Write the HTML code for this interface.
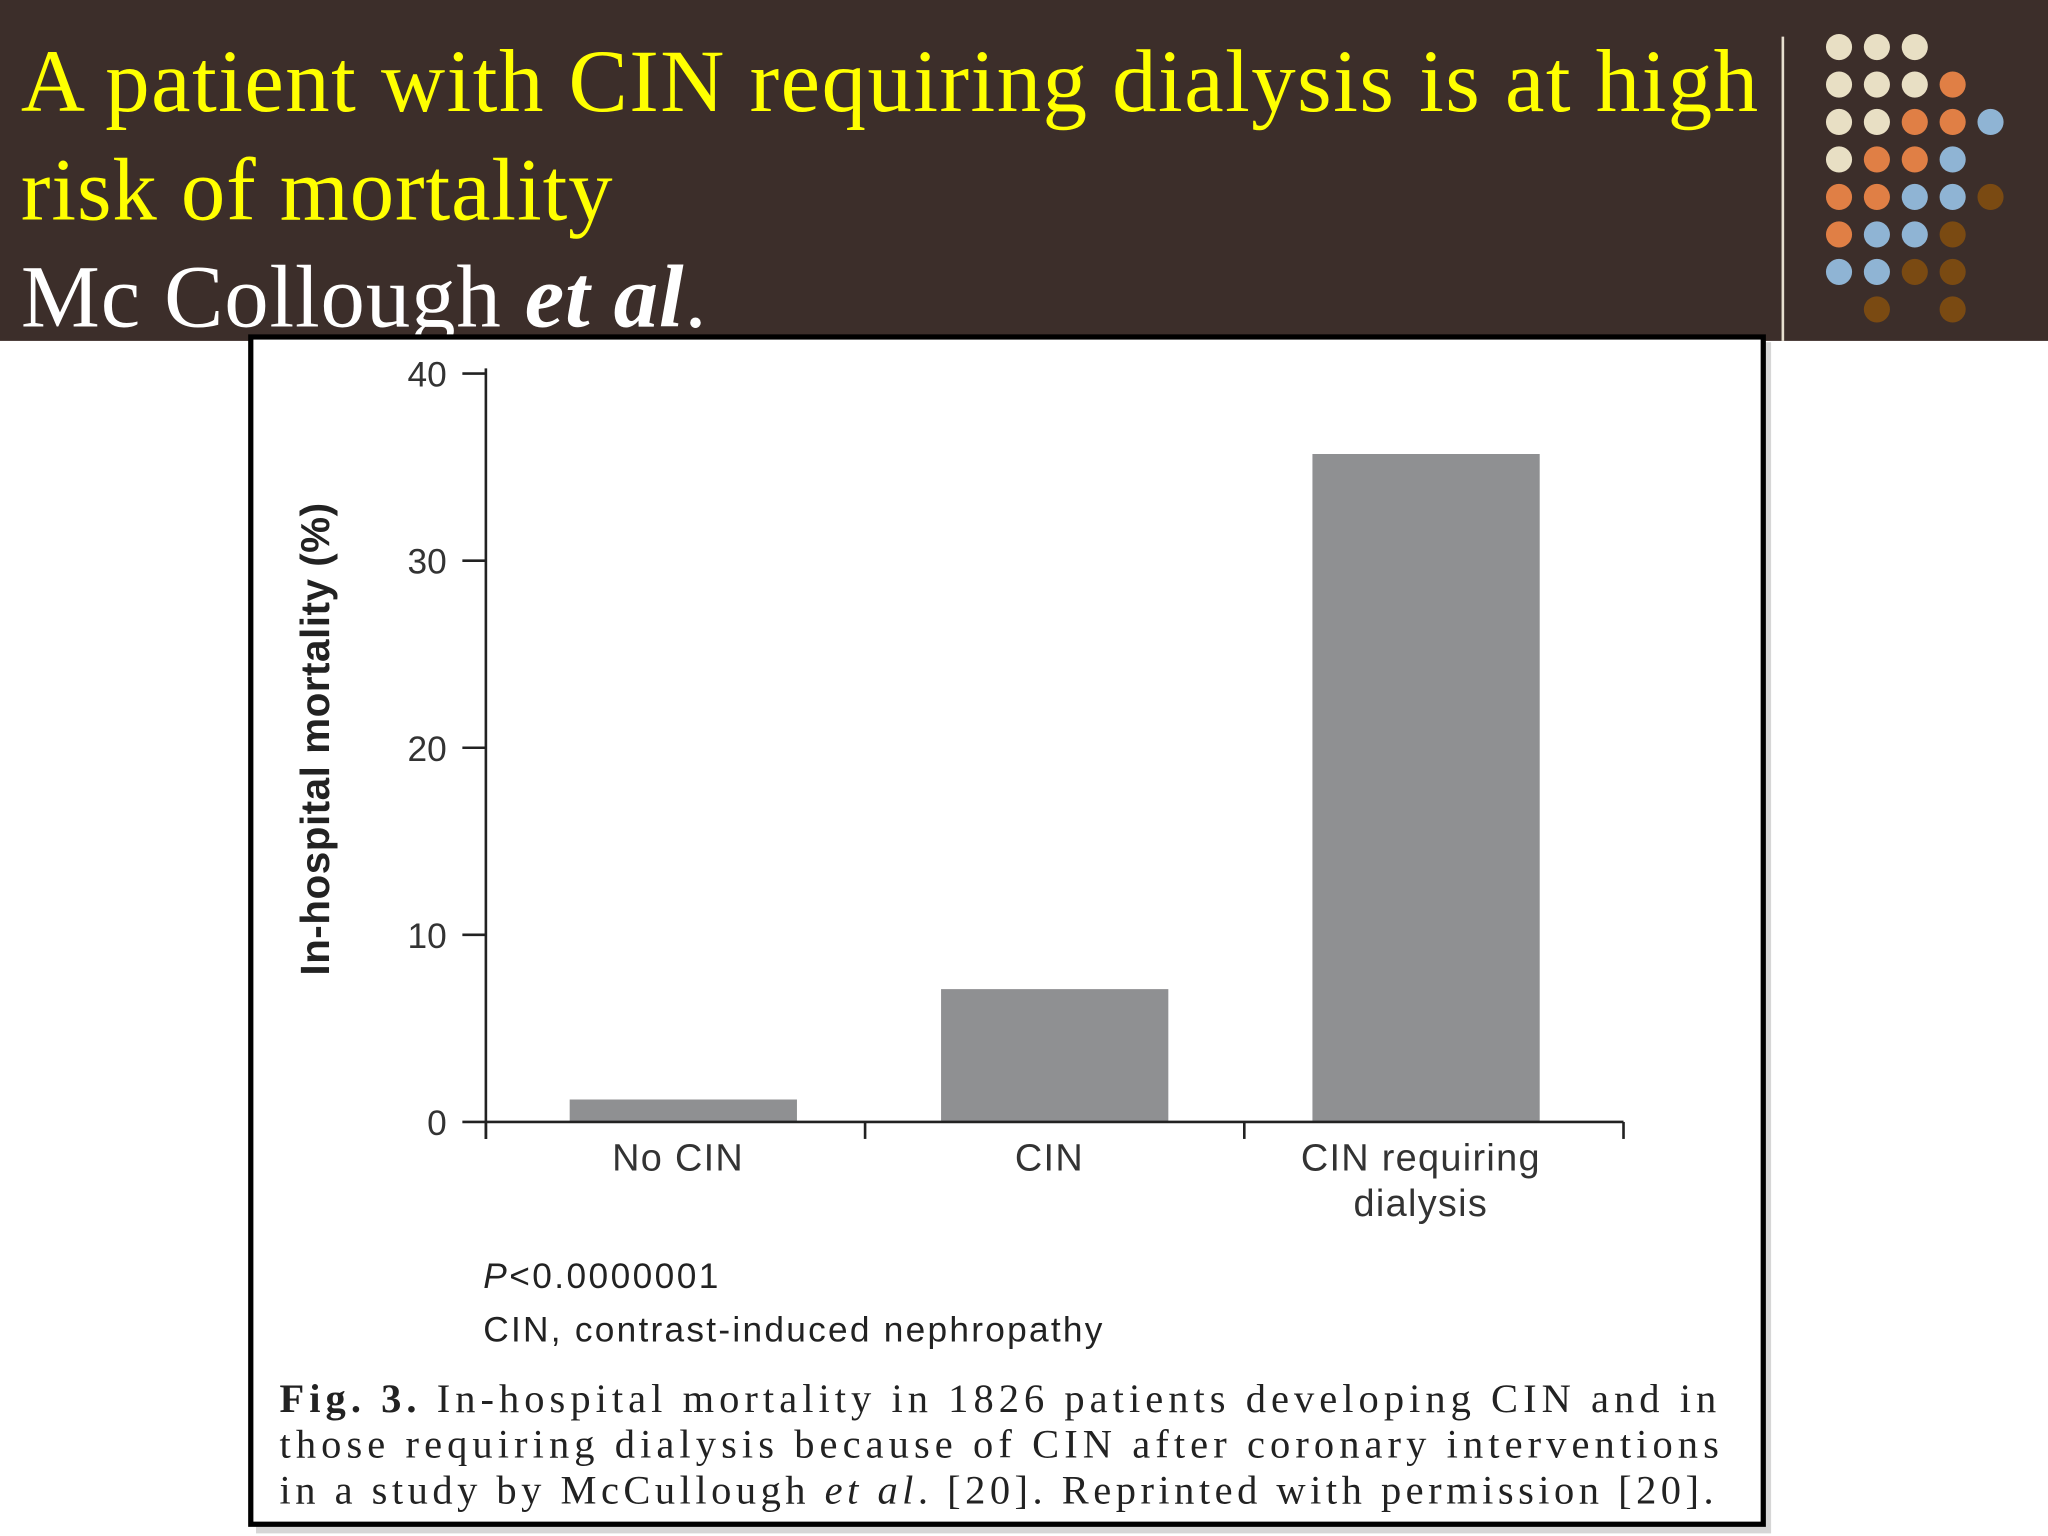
<!DOCTYPE html>
<html><head><meta charset="utf-8"><style>
html,body{margin:0;padding:0;background:#fff;width:2048px;height:1536px;overflow:hidden}
svg{display:block}
</style></head><body>
<svg width="2048" height="1536" viewBox="0 0 1568 1176" xmlns="http://www.w3.org/2000/svg">
<rect x="0" y="0" width="1568" height="261" fill="#3c2e2a"/>
<line x1="1365" y1="28" x2="1365" y2="261" stroke="#e8e0d0" stroke-width="2"/>
<g font-family="Liberation Serif, serif" font-size="68">
<text x="16" y="85" fill="#ffff00" textLength="1330">A patient  with CIN requiring dialysis is at high</text>
<text x="16" y="168" fill="#ffff00" textLength="453">risk of mortality</text>
<text x="16" y="250" fill="#ffffff" textLength="525">Mc Collough <tspan font-weight="bold" font-style="italic">et al</tspan>.</text>
</g>
<g id="dots"></g>
<rect x="196" y="262" width="1160" height="912" fill="#bbb" opacity="0.6"/>
<rect x="192" y="258" width="1158" height="909" fill="#fff" stroke="#000" stroke-width="4"/>
<g id="chart"></g>
<g font-family="Liberation Sans, sans-serif" font-size="27" fill="#222">
<text x="370" y="986" textLength="180"><tspan font-style="italic">P</tspan>&lt;0.0000001</text>
<text x="370" y="1027" textLength="474">CIN, contrast-induced nephropathy</text>
</g>
<g font-family="Liberation Serif, serif" font-size="31" fill="#222">
<text x="214" y="1081" textLength="1100"><tspan font-weight="bold">Fig. 3.</tspan> In-hospital mortality in 1826 patients developing CIN and in</text>
<text x="214" y="1116" textLength="1102">those requiring dialysis because of CIN after coronary interventions</text>
<text x="214" y="1151" textLength="1098">in a study by McCullough <tspan font-style="italic">et al</tspan>. [20]. Reprinted with permission [20].</text>
</g>
</svg>
<script>
const NS='http://www.w3.org/2000/svg';
function mk(tag,attrs,parent){const e=document.createElementNS(NS,tag);for(const k in attrs)e.setAttribute(k,attrs[k]);parent.appendChild(e);return e;}
const dotRows=["ccc","ccco","ccoob","coob","oobbn","obbn","bbnn","_n_n"];
const dotColors={c:"#e8dfc4",o:"#e07f45",b:"#8fb4d4",n:"#7a4a12"};
const dg=document.getElementById('dots');
dotRows.forEach((r,i)=>{[...r].forEach((ch,j)=>{if(ch==='_')return;
const d=mk('circle',{cx:1408+j*29,cy:36+i*28.7,r:10,fill:dotColors[ch]},dg);

});});
const categories=[["No CIN"],["CIN"],["CIN requiring","dialysis"]];
const values=[1.2,7.1,35.7];
const yTicks=[0,10,20,30,40];
const x0=372,x1=1243,yBase=859,yTop=286,yMax=40;
const y=v=>yBase-(v/yMax)*(yBase-yTop);
const band=(x1-x0)/categories.length;
const cx=i=>x0+band*(i+0.5)+[6,0,-6][i];
const g=document.getElementById('chart');
values.forEach((v,i)=>{
const b=mk('rect',{x:cx(i)-87,y:y(v),width:174,height:yBase-y(v),fill:'#8f9092'},g);


categories[i].forEach((t,k)=>{
const tx=mk('text',{x:cx(i)-4,y:896+k*35,'text-anchor':'middle','font-family':'Liberation Sans, sans-serif','font-size':29,fill:'#333','letter-spacing':'1'},g);
tx.textContent=t;

});
});
const ya=mk('line',{x1:x0,y1:yTop-4,x2:x0,y2:yBase+13,stroke:'#222','stroke-width':2},g);


const xa=mk('line',{x1:x0,y1:yBase,x2:x1,y2:yBase,stroke:'#222','stroke-width':2},g);


for(let i=0;i<=categories.length;i++){
const t=mk('line',{x1:x0+band*i,y1:yBase,x2:x0+band*i,y2:yBase+13,stroke:'#222','stroke-width':2},g);

}
yTicks.forEach(v=>{
const t=mk('line',{x1:x0-18,y1:y(v),x2:x0,y2:y(v),stroke:'#222','stroke-width':2},g);


const l=mk('text',{x:x0-30,y:y(v)+10,'text-anchor':'end','font-family':'Liberation Sans, sans-serif','font-size':27,fill:'#333'},g);
l.textContent=v;

});
const yt=mk('text',{x:0,y:0,transform:'translate(252,566) rotate(-90)','text-anchor':'middle','font-family':'Liberation Sans, sans-serif','font-size':31,'font-weight':'bold',fill:'#222',textLength:362},g);
yt.textContent='In-hospital mortality (%)';


</script>
</body></html>
